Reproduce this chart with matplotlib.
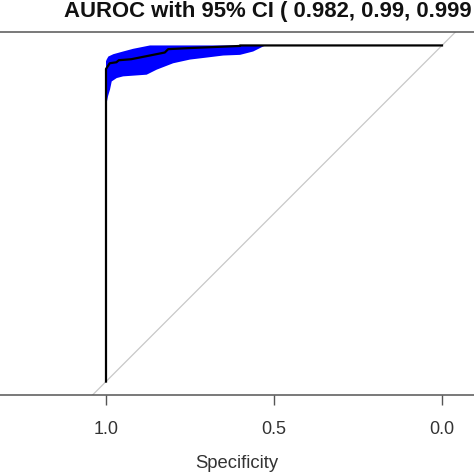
# ROC curve with 95% CI band for sensitivity (pROC-style plot, cropped view)
import matplotlib.pyplot as plt

plt.rcParams['font.family'] = ['Liberation Sans', 'DejaVu Sans']

# ROC curve (specificity, sensitivity)
roc_spec = [1.0, 1.0, 0.989, 0.969, 0.962, 0.925, 0.875, 0.825, 0.815, 0.756, 0.601, 0.601, 0.0]
roc_sens = [0.0, 0.930, 0.947, 0.950, 0.956, 0.959, 0.969, 0.979, 0.989, 0.992, 0.9985, 1.0, 1.0]

# CI band, upper edge (left to right on screen)
ci_hi_spec = [1.0, 0.998, 0.993, 0.978, 0.949, 0.919, 0.884, 0.869, 0.524]
ci_hi_sens = [0.953, 0.958, 0.967, 0.974, 0.982, 0.990, 0.997, 1.0, 1.0]
# CI band, lower edge (right to left on screen)
ci_lo_spec = [0.524, 0.532, 0.562, 0.601, 0.651, 0.700, 0.750, 0.800, 0.849,
              0.879, 0.949, 0.968, 0.983, 0.988, 0.994, 1.0]
ci_lo_sens = [1.0, 0.997, 0.982, 0.972, 0.970, 0.964, 0.958, 0.947, 0.928,
              0.913, 0.908, 0.903, 0.893, 0.869, 0.849, 0.819]

ticks = [1.0, 0.5, 0.0]
tick_labels = ['1.0', '0.5', '0.0']
# the visible part of the title (the original image is cropped at the right)
title = 'AUROC with 95% CI ( 0.982, 0.99, 0.999'

fig = plt.figure(figsize=(4.74, 4.74), dpi=100)
ax = fig.add_axes([0, 79 / 474, 1, 363 / 474])

# diagonal reference line
ax.axline((1, 0), (0, 1), color='#c8c8c8', lw=0.9, zorder=1)

# CI shape
ax.fill(ci_hi_spec + ci_lo_spec, ci_hi_sens + ci_lo_sens, color='#0000ff', lw=0, zorder=2)

# ROC line
ax.plot(roc_spec, roc_sens, color='black', lw=1.6, zorder=3)

ax.set_xlim(1 + 106 / 336, 1 + 106 / 336 - 474 / 336)
ax.set_ylim(-0.04, 1.04)

ax.set_xticks(ticks)
ax.set_xticklabels(tick_labels)
ax.set_yticks([])
ax.tick_params(axis='x', length=7, width=1, color='#555555', labelcolor='#333333',
               labelsize=13, pad=12)
for side in ['left', 'right']:
    ax.spines[side].set_visible(False)
for side in ['top', 'bottom']:
    ax.spines[side].set_color('#555555')
    ax.spines[side].set_linewidth(1.1)

ax.set_xlabel('Specificity', fontsize=13.3, color='#333333', labelpad=12)

fig.text(472 / 474, 1 - 11 / 474, title, fontsize=15.9, fontweight='bold',
         ha='right', va='center', color='#111111')

plt.savefig('out.png', dpi=100)
